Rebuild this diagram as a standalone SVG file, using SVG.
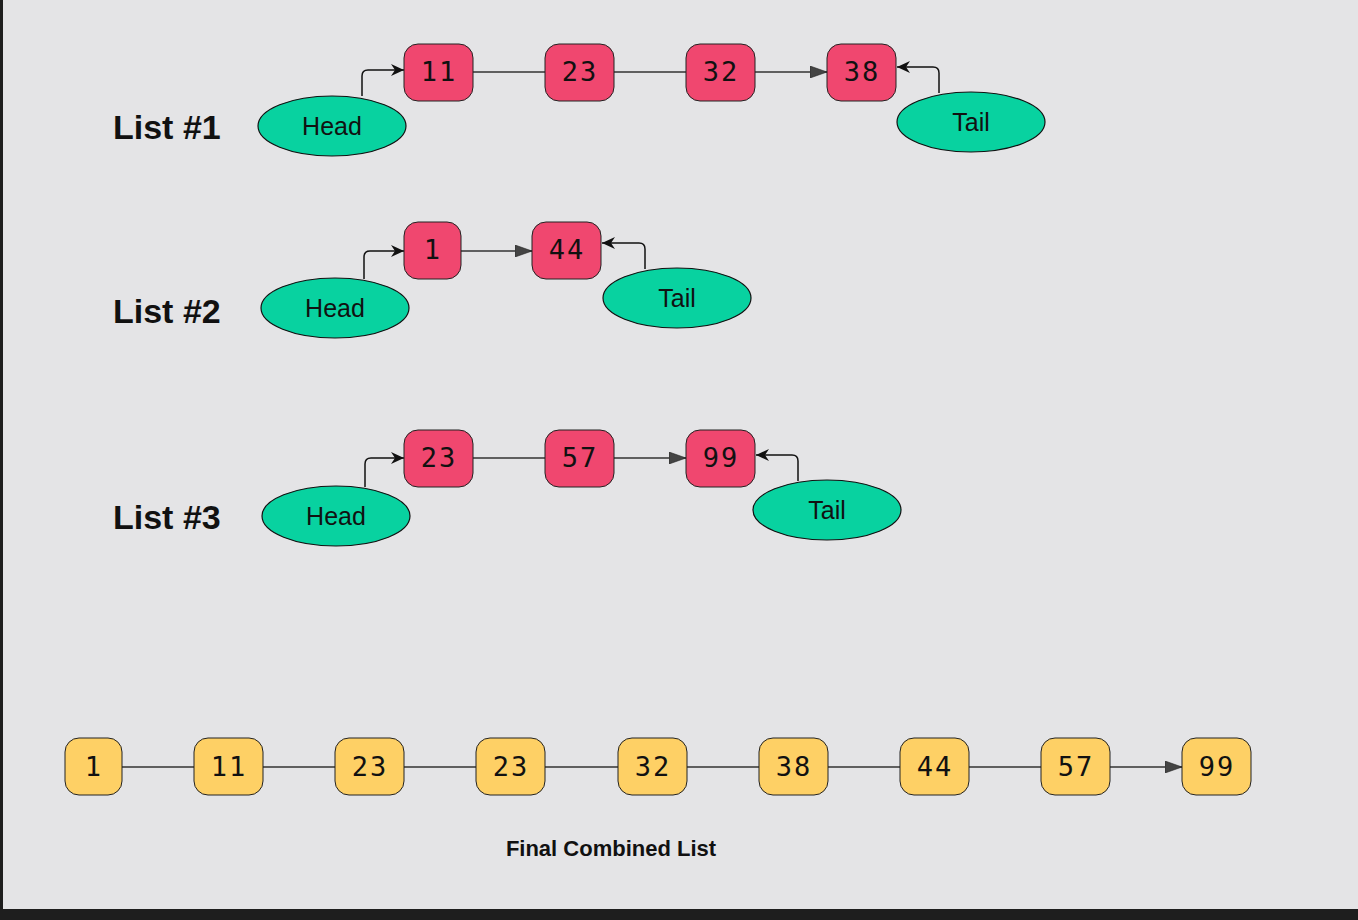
<svg xmlns="http://www.w3.org/2000/svg" width="1358" height="920" viewBox="0 0 1358 920">
<defs>
<style>
.r{fill:#f0476f;stroke:#222;stroke-width:1}
.y{fill:#fed065;stroke:#222;stroke-width:1}
.e{fill:#08d2a0;stroke:#111;stroke-width:1.2}
.n{font-family:"DejaVu Sans Mono",monospace;font-size:27px;fill:#111;text-anchor:middle;letter-spacing:2px}
.et{font-family:"Liberation Sans",Arial,sans-serif;font-size:25px;fill:#111;text-anchor:middle}
.lt{font-family:"Liberation Sans",Arial,sans-serif;font-size:34px;font-weight:bold;fill:#111}
.c{fill:none;stroke:#333;stroke-width:1.3}
.p{fill:none;stroke:#111;stroke-width:1.5}
</style>
<marker id="tri" markerWidth="18" markerHeight="12" refX="17" refY="6" orient="auto" markerUnits="userSpaceOnUse"><path d="M0,0L17,6L0,12z" fill="#444" stroke="#222" stroke-width="0.6"/></marker>
<marker id="opn" markerWidth="14" markerHeight="12" refX="13" refY="6" orient="auto" markerUnits="userSpaceOnUse"><path d="M0,0L13,6L0,12L4,6z" fill="#111"/></marker>
</defs>
<rect width="1358" height="920" fill="#1e1e1e"/>
<rect x="3" y="0" width="1355" height="909" fill="#e4e4e6"/>
<text class="lt" x="113" y="139">List #1</text>
<text class="lt" x="113" y="323">List #2</text>
<text class="lt" x="113" y="529">List #3</text>
<text x="611" y="856" font-family="Liberation Sans,Arial,sans-serif" font-size="22" font-weight="bold" text-anchor="middle" fill="#111">Final Combined List</text>
<g id="connectors">
<path class="c" d="M473,72H545M614,72H686M755,72H827" marker-end="url(#tri)"/>
<path class="p" d="M362,96V76Q362,70 368,70H404" marker-end="url(#opn)"/>
<path class="p" d="M939,93V73Q939,67 933,67H897" marker-end="url(#opn)"/>
<path class="c" d="M461,251H532" marker-end="url(#tri)"/>
<path class="p" d="M364,279V257Q364,251 370,251H404" marker-end="url(#opn)"/>
<path class="p" d="M645,269V249Q645,243 639,243H602" marker-end="url(#opn)"/>
<path class="c" d="M473,458H545M614,458H686" marker-end="url(#tri)"/>
<path class="p" d="M365,487V464Q365,458 371,458H404" marker-end="url(#opn)"/>
<path class="p" d="M798,481V461Q798,455 792,455H756" marker-end="url(#opn)"/>
<path class="c" d="M122,767H194M263,767H335M404,767H476M545,767H618M687,767H759M828,767H900M969,767H1041M1110,767H1182" marker-end="url(#tri)"/>
</g>
<g id="l1">
<g id="n11"><rect class="r" x="404" y="44" width="69" height="57" rx="14"/><text class="n" x="439" y="81">11</text></g>
<g id="n23"><rect class="r" x="545" y="44" width="69" height="57" rx="14"/><text class="n" x="580" y="81">23</text></g>
<g id="n32"><rect class="r" x="686" y="44" width="69" height="57" rx="14"/><text class="n" x="721" y="81">32</text></g>
<g id="n38"><rect class="r" x="827" y="44" width="69" height="57" rx="14"/><text class="n" x="862" y="81">38</text></g>
<g id="h1"><ellipse class="e" cx="332" cy="126" rx="74" ry="30"/><text class="et" x="332" y="135">Head</text></g>
<g id="t1"><ellipse class="e" cx="971" cy="122" rx="74" ry="30"/><text class="et" x="971" y="131">Tail</text></g>
</g>
<g id="l2">
<g id="n1"><rect class="r" x="404" y="222" width="57" height="57" rx="14"/><text class="n" x="433" y="259">1</text></g>
<g id="n44"><rect class="r" x="532" y="222" width="69" height="57" rx="14"/><text class="n" x="567" y="259">44</text></g>
<g id="h2"><ellipse class="e" cx="335" cy="308" rx="74" ry="30"/><text class="et" x="335" y="317">Head</text></g>
<g id="t2"><ellipse class="e" cx="677" cy="298" rx="74" ry="30"/><text class="et" x="677" y="307">Tail</text></g>
</g>
<g id="l3">
<g id="m23"><rect class="r" x="404" y="430" width="69" height="57" rx="14"/><text class="n" x="439" y="467">23</text></g>
<g id="m57"><rect class="r" x="545" y="430" width="69" height="57" rx="14"/><text class="n" x="580" y="467">57</text></g>
<g id="m99"><rect class="r" x="686" y="430" width="69" height="57" rx="14"/><text class="n" x="721" y="467">99</text></g>
<g id="h3"><ellipse class="e" cx="336" cy="516" rx="74" ry="30"/><text class="et" x="336" y="525">Head</text></g>
<g id="t3"><ellipse class="e" cx="827" cy="510" rx="74" ry="30"/><text class="et" x="827" y="519">Tail</text></g>
</g>
<g id="final">
<g id="f1"><rect class="y" x="65" y="738" width="57" height="57" rx="14"/><text class="n" x="94" y="776">1</text></g>
<g id="f2"><rect class="y" x="194" y="738" width="69" height="57" rx="14"/><text class="n" x="229" y="776">11</text></g>
<g id="f3"><rect class="y" x="335" y="738" width="69" height="57" rx="14"/><text class="n" x="370" y="776">23</text></g>
<g id="f4"><rect class="y" x="476" y="738" width="69" height="57" rx="14"/><text class="n" x="511" y="776">23</text></g>
<g id="f5"><rect class="y" x="618" y="738" width="69" height="57" rx="14"/><text class="n" x="653" y="776">32</text></g>
<g id="f6"><rect class="y" x="759" y="738" width="69" height="57" rx="14"/><text class="n" x="794" y="776">38</text></g>
<g id="f7"><rect class="y" x="900" y="738" width="69" height="57" rx="14"/><text class="n" x="935" y="776">44</text></g>
<g id="f8"><rect class="y" x="1041" y="738" width="69" height="57" rx="14"/><text class="n" x="1076" y="776">57</text></g>
<g id="f9"><rect class="y" x="1182" y="738" width="69" height="57" rx="14"/><text class="n" x="1217" y="776">99</text></g>
</g>
</svg>
